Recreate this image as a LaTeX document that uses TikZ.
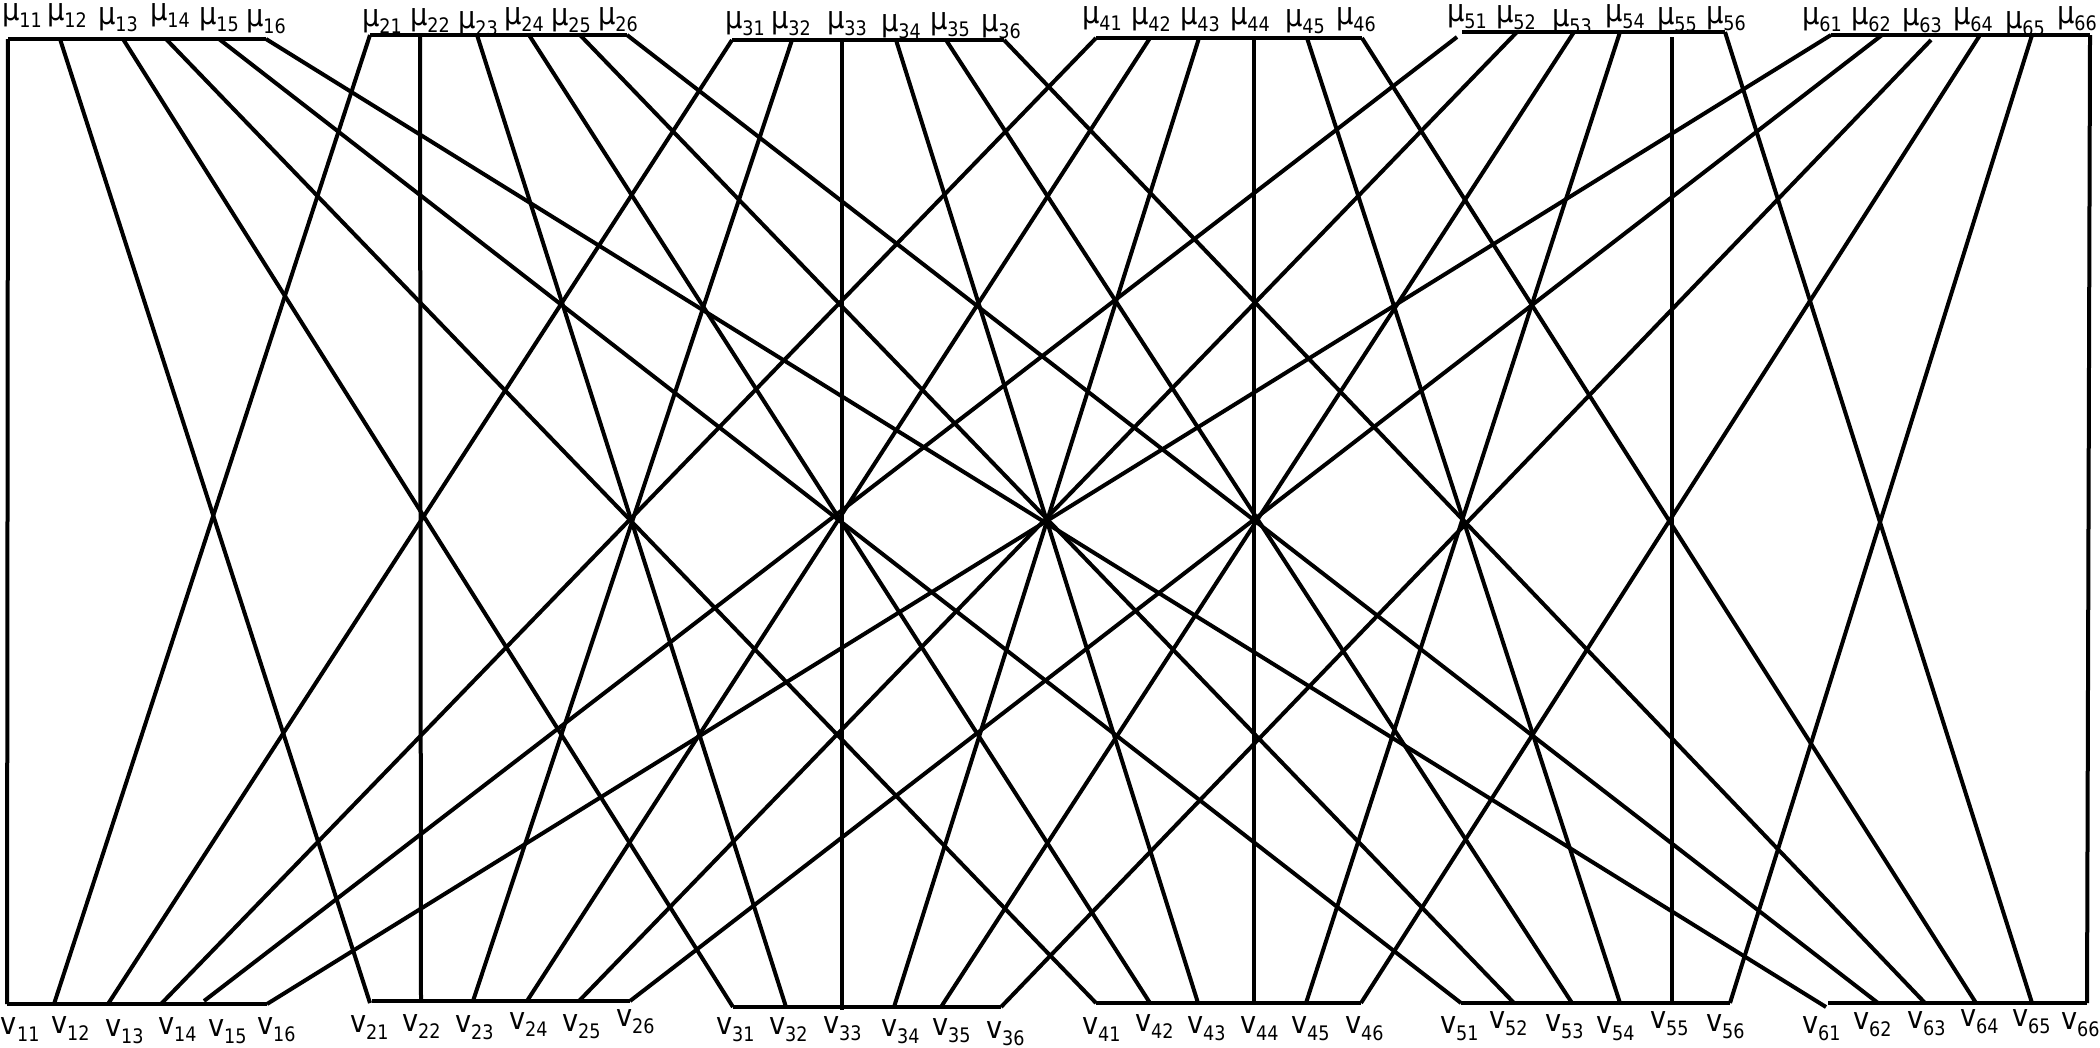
\documentclass[tikz,border=0pt]{standalone}
\usepackage{fontspec}
\newfontfamily\lblfont[FakeStretch=0.88]{DejaVu Sans}
\newcommand\lsub[1]{{\fontsize{20}{20}\selectfont\raisebox{-7pt}{#1}}}
\begin{document}
\begin{tikzpicture}[x=1pt,y=-1pt,
  edge/.style={line width=4pt,black},
  lbl/.style={anchor=north west,inner sep=0pt,outer sep=0pt,font=\lblfont\fontsize{31}{31}\selectfont}]
\useasboundingbox[fill=white] (0,0) rectangle (2100,1047);
% top end points (mu_ij)
\foreach \n/\x/\y in {11/8/39,12/60/39,13/123/39,14/166/39,15/219/39,16/266/39,
  21/370/35,22/420/35,23/477/35,24/529/35,25/580/35,26/627/35,
  31/732/40,32/792/40,33/842/40,34/896/40,35/946/40,36/1004/40,
  41/1096/38,42/1150/38,43/1199/38,44/1254/38,45/1307/38,46/1362/38,
  51/1457/37,52/1517/32,53/1574/32,54/1620/32,55/1672/37,56/1725/32,
  61/1831/35,62/1882/35,63/1931/40,64/1980/35,65/2032/35,66/2090/35}
  \coordinate (m\n) at (\x,\y);
% bottom end points (v_ij)
\foreach \n/\x/\y in {11/7/1004,12/54/1004,13/108/1004,14/161/1004,15/204/1001,16/267/1004,
  21/370/1003,22/421/1001,23/473/1001,24/527/1001,25/579/1001,26/630/1001,
  31/733/1007,32/786/1007,33/842/1010,34/894/1007,35/941/1007,36/1001/1007,
  41/1096/1003,42/1150/1003,43/1198/1003,44/1254/1003,45/1306/1003,46/1361/1003,
  51/1461/1003,52/1514/1003,53/1572/1003,54/1620/1003,55/1672/1003,56/1730/1003,
  61/1826/1007,62/1878/1003,63/1925/1003,64/1976/1003,65/2032/1003,66/2087/1003}
  \coordinate (v\n) at (\x,\y);
% bar ends
\coordinate (ta1) at (8,39);     \coordinate (tb1) at (266,39);
\coordinate (ta2) at (370,35);   \coordinate (tb2) at (627,35);
\coordinate (ta3) at (732,40);   \coordinate (tb3) at (1004,40);
\coordinate (ta4) at (1096,38);  \coordinate (tb4) at (1362,38);
\coordinate (ta5) at (1462,32);  \coordinate (tb5) at (1725,32);
\coordinate (ta6) at (1831,35);  \coordinate (tb6) at (2090,35);
\coordinate (ba1) at (7,1004);    \coordinate (bb1) at (267,1004);
\coordinate (ba2) at (372,1001);  \coordinate (bb2) at (630,1001);
\coordinate (ba3) at (733,1007);  \coordinate (bb3) at (1001,1007);
\coordinate (ba4) at (1096,1003); \coordinate (bb4) at (1361,1003);
\coordinate (ba5) at (1461,1003); \coordinate (bb5) at (1730,1003);
\coordinate (ba6) at (1828,1003); \coordinate (bb6) at (2087,1003);
\foreach \g in {1,...,6}{
  \draw[edge] (ta\g) -- (tb\g);
  \draw[edge] (ba\g) -- (bb\g);
}
% connectors mu_ij -> v_ji
\foreach \i in {1,...,6}{
  \foreach \j in {1,...,6}{
    \draw[edge,line join=miter] (m\i\j) -- (v\j\i);
  }
}
% top labels
\foreach \n/\x/\y in {11/2/4,12/47/4,13/98/8,14/150/4,15/199/8,16/246/10,
  21/362/10,22/410/9,23/458/12,24/504/8,25/551/9,26/598/8,
  31/725/12,32/771/12,33/827/12,34/881/15,35/930/13,36/981/15,
  41/1082/7,42/1131/8,43/1180/8,44/1230/8,45/1285/10,46/1336/8,
  51/1447/5,52/1496/6,53/1552/10,54/1605/5,55/1657/8,56/1706/7,
  61/1802/8,62/1851/8,63/1902/9,64/1953/8,65/2005/12,66/2057/7}
  \node[lbl] (lm\n) at (\x,\y) {μ\lsub{\n}};
% bottom labels
\foreach \n/\x/\y in {11/1/1018,12/51/1017,13/105/1020,14/158/1018,15/208/1020,16/257/1018,
  21/350/1016,22/402/1015,23/455/1016,24/509/1013,25/562/1015,26/616/1010,
  31/716/1018,32/769/1018,33/823/1017,34/881/1020,35/932/1019,36/986/1022,
  41/1082/1018,42/1135/1015,43/1187/1017,44/1240/1017,45/1291/1017,46/1345/1017,
  51/1440/1017,52/1489/1012,53/1545/1015,54/1596/1017,55/1650/1012,56/1706/1015,
  61/1802/1017,62/1853/1013,63/1907/1012,64/1960/1010,65/2012/1010,66/2061/1013}
  \node[lbl] (lv\n) at (\x,\y) {v\lsub{\n}};
\end{tikzpicture}
\end{document}
